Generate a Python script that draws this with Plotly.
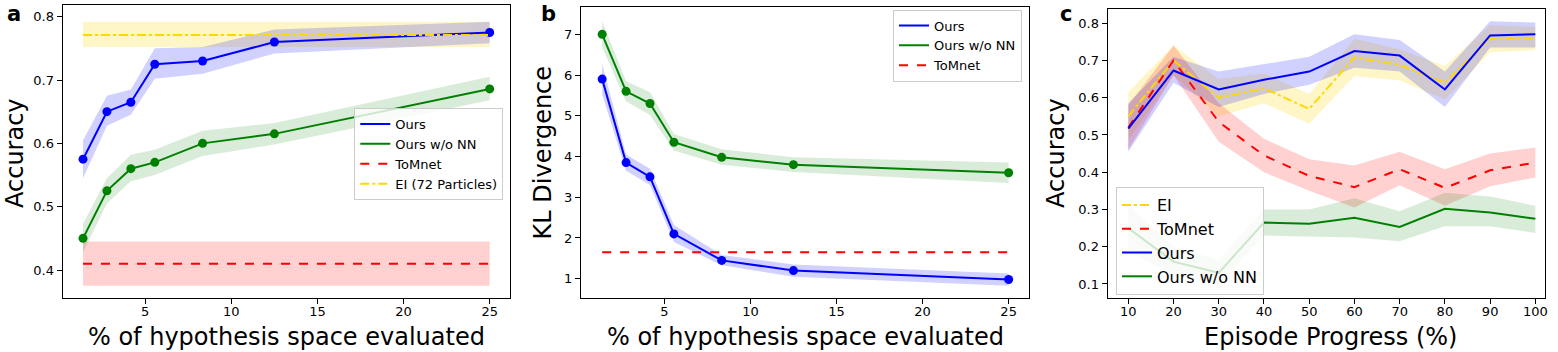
import plotly.graph_objects as go

W, H = 1558, 352

# ---- Panel a data ----
hyp_x = [1.389, 2.778, 4.167, 5.556, 8.333, 12.5, 25.0]
a_ours = [0.575, 0.650, 0.665, 0.725, 0.730, 0.760, 0.775]
a_ours_hi = [0.605, 0.675, 0.685, 0.750, 0.752, 0.780, 0.792]
a_ours_lo = [0.545, 0.628, 0.645, 0.702, 0.710, 0.742, 0.758]
a_nonn = [0.450, 0.525, 0.560, 0.570, 0.600, 0.615, 0.686]
a_nonn_hi = [0.473, 0.545, 0.582, 0.590, 0.620, 0.632, 0.705]
a_nonn_lo = [0.428, 0.505, 0.540, 0.550, 0.580, 0.598, 0.668]
a_tomnet = [0.41] * 7
a_tomnet_hi = [0.445] * 7
a_tomnet_lo = [0.375] * 7
a_ei = [0.771] * 7
a_ei_hi = [0.792] * 7
a_ei_lo = [0.752] * 7

# ---- Panel b data ----
b_ours = [5.90, 3.85, 3.50, 2.10, 1.45, 1.20, 0.98]
b_ours_hi = [6.28, 4.05, 3.70, 2.32, 1.58, 1.35, 1.13]
b_ours_lo = [5.52, 3.65, 3.30, 1.90, 1.33, 1.05, 0.83]
b_nonn = [7.00, 5.60, 5.30, 4.35, 3.98, 3.80, 3.60]
b_nonn_hi = [7.32, 5.85, 5.58, 4.55, 4.18, 3.98, 3.85]
b_nonn_lo = [6.68, 5.35, 5.02, 4.15, 3.80, 3.62, 3.35]
b_tomnet = [1.65] * 7

# ---- Panel c data ----
prog_x = [10, 20, 30, 40, 50, 60, 70, 80, 90, 100]
c_ei = [0.550, 0.700, 0.600, 0.625, 0.570, 0.708, 0.688, 0.640, 0.758, 0.758]
c_ei_hi = [0.615, 0.740, 0.650, 0.665, 0.610, 0.758, 0.730, 0.685, 0.795, 0.790]
c_ei_lo = [0.485, 0.660, 0.550, 0.585, 0.530, 0.658, 0.646, 0.595, 0.722, 0.728]
c_tomnet = [0.520, 0.700, 0.535, 0.445, 0.390, 0.360, 0.408, 0.358, 0.405, 0.426]
c_tomnet_hi = [0.580, 0.740, 0.585, 0.490, 0.435, 0.418, 0.455, 0.408, 0.450, 0.466]
c_tomnet_lo = [0.460, 0.660, 0.482, 0.400, 0.350, 0.305, 0.365, 0.310, 0.362, 0.386]
c_ours = [0.517, 0.673, 0.622, 0.648, 0.670, 0.725, 0.713, 0.622, 0.767, 0.770]
c_ours_hi = [0.585, 0.710, 0.670, 0.690, 0.710, 0.770, 0.755, 0.670, 0.805, 0.802]
c_ours_lo = [0.455, 0.640, 0.575, 0.610, 0.635, 0.680, 0.670, 0.575, 0.735, 0.735]
c_nonn = [0.250, 0.160, 0.130, 0.265, 0.262, 0.278, 0.253, 0.302, 0.292, 0.275]
c_nonn_hi = [0.310, 0.200, 0.165, 0.300, 0.300, 0.330, 0.295, 0.345, 0.335, 0.310]
c_nonn_lo = [0.190, 0.120, 0.100, 0.230, 0.228, 0.225, 0.215, 0.255, 0.255, 0.237]

BLUE = "#0000ff"
GREEN = "#008000"
RED = "#ff0000"
GOLD = "#ffd700"
FILLS = {BLUE: "rgba(0,0,255,0.18)", GREEN: "rgba(0,128,0,0.15)",
         RED: "rgba(255,0,0,0.18)", GOLD: "rgba(255,215,0,0.22)"}

fig = go.Figure()


def band(x, lo, hi, color, xa, ya):
    fig.add_trace(go.Scatter(x=list(x) + list(x)[::-1], y=list(hi) + list(lo)[::-1],
                             fill="toself", fillcolor=FILLS[color], line=dict(width=0),
                             mode="lines", showlegend=False, hoverinfo="skip",
                             xaxis=xa, yaxis=ya))


def line(x, y, color, name, xa, ya, legend, dash="solid", markers=False):
    fig.add_trace(go.Scatter(x=x, y=y, name=name, mode="lines",
                             line=dict(color=color, width=2, dash=dash),
                             xaxis=xa, yaxis=ya, legend=legend))
    if markers:
        fig.add_trace(go.Scatter(x=x, y=y, mode="markers", showlegend=False,
                                 marker=dict(size=9, color=color),
                                 xaxis=xa, yaxis=ya))


# Panel a
band(hyp_x, a_ei_lo, a_ei_hi, GOLD, "x", "y")
band(hyp_x, a_tomnet_lo, a_tomnet_hi, RED, "x", "y")
band(hyp_x, a_ours_lo, a_ours_hi, BLUE, "x", "y")
band(hyp_x, a_nonn_lo, a_nonn_hi, GREEN, "x", "y")
line(hyp_x, a_ours, BLUE, "Ours", "x", "y", "legend", markers=True)
line(hyp_x, a_nonn, GREEN, "Ours w/o NN", "x", "y", "legend", markers=True)
line(hyp_x, a_tomnet, RED, "ToMnet", "x", "y", "legend", dash="dash")
line(hyp_x, a_ei, GOLD, "EI (72 Particles)", "x", "y", "legend", dash="dashdot")

# Panel b
band(hyp_x, b_ours_lo, b_ours_hi, BLUE, "x2", "y2")
band(hyp_x, b_nonn_lo, b_nonn_hi, GREEN, "x2", "y2")
line(hyp_x, b_ours, BLUE, "Ours", "x2", "y2", "legend2", markers=True)
line(hyp_x, b_nonn, GREEN, "Ours w/o NN", "x2", "y2", "legend2", markers=True)
line(hyp_x, b_tomnet, RED, "ToMnet", "x2", "y2", "legend2", dash="dash")

# Panel c
band(prog_x, c_ei_lo, c_ei_hi, GOLD, "x3", "y3")
band(prog_x, c_tomnet_lo, c_tomnet_hi, RED, "x3", "y3")
band(prog_x, c_ours_lo, c_ours_hi, BLUE, "x3", "y3")
band(prog_x, c_nonn_lo, c_nonn_hi, GREEN, "x3", "y3")
line(prog_x, c_ei, GOLD, "EI", "x3", "y3", "legend3", dash="dashdot")
line(prog_x, c_tomnet, RED, "ToMnet", "x3", "y3", "legend3", dash="dash")
line(prog_x, c_ours, BLUE, "Ours", "x3", "y3", "legend3")
line(prog_x, c_nonn, GREEN, "Ours w/o NN", "x3", "y3", "legend3")

FONT = "DejaVu Sans"
TICKF = dict(family=FONT, size=13, color="black")
TITLE_SIZE = 24


def px(v):  # window pixel -> paper x
    return v / W


def py(v):  # window pixel -> paper y
    return 1 - v / H


def xax(domain, rng, dtick, anchor):
    return dict(domain=domain, range=rng, dtick=dtick, anchor=anchor, automargin=False,
                showline=True, linecolor="black", linewidth=1.2, mirror=True,
                ticks="outside", ticklen=5, tickcolor="black", tickwidth=1,
                ticklabelstandoff=-4,
                showgrid=False, zeroline=False, tickfont=TICKF)


def yax(domain, rng, dtick, anchor, fmt=None):
    d = dict(domain=domain, range=rng, dtick=dtick, anchor=anchor, automargin=False,
             showline=True, linecolor="black", linewidth=1.2, mirror=True,
             ticks="outside", ticklen=5, tickcolor="black", tickwidth=1,
             showgrid=False, zeroline=False, tickfont=TICKF)
    if fmt:
        d["tickformat"] = fmt
    return d


def title(text, x, y, angle=0, size=TITLE_SIZE, bold=False, yanchor="middle"):
    return dict(text=f"<b>{text}</b>" if bold else text, x=px(x), y=py(y),
                xref="paper", yref="paper", showarrow=False, textangle=angle,
                xanchor="center", yanchor=yanchor,
                font=dict(family=FONT, size=size, color="black"))


LEG = dict(bgcolor="rgba(255,255,255,0.8)", bordercolor="#cccccc", borderwidth=1, itemwidth=30)

BOTTOM = 298.3
fig.update_layout(
    width=W, height=H, margin=dict(l=0, r=0, t=0, b=0, autoexpand=False),
    paper_bgcolor="white", plot_bgcolor="white",
    font=dict(family=FONT, color="black"),
    xaxis=xax([px(62.7), px(510)], [0.21, 26.18], 5, "y"),
    yaxis=yax([py(BOTTOM), py(5)], [0.3553, 0.8185], 0.1, "x", ".1f"),
    xaxis2=xax([px(581), px(1029.3)], [0.16, 26.2], 5, "y2"),
    yaxis2=yax([py(BOTTOM), py(7.3)], [0.519, 7.663], 1, "x2"),
    xaxis3=xax([px(1107.7), px(1545.3)], [5.45, 102.2], 10, "y3"),
    yaxis3=yax([py(BOTTOM), py(9)], [0.0616, 0.838], 0.1, "x3", ".1f"),
    legend=dict(x=px(503.3), y=py(108), xanchor="right", yanchor="top",
                font=dict(family=FONT, size=13), **LEG),
    legend2=dict(x=px(1022), y=py(9.5), xanchor="right", yanchor="top",
                 font=dict(family=FONT, size=13), **LEG),
    legend3=dict(x=px(1116), y=py(295), xanchor="left", yanchor="bottom",
                 font=dict(family=FONT, size=16), **LEG),
    annotations=[
        title("a", 14, 0, size=21, bold=True, yanchor="top"),
        title("b", 548, 0, size=21, bold=True, yanchor="top"),
        title("c", 1066, 0, size=21, bold=True, yanchor="top"),
        title("Accuracy", 15, 153, angle=-90),
        title("KL Divergence", 543.4, 153, angle=-90),
        title("Accuracy", 1055.9, 153, angle=-90),
        title("% of hypothesis space evaluated", 286.4, 336.5),
        title("% of hypothesis space evaluated", 805.2, 336.5),
        title("Episode Progress (%)", 1330, 336.5),
    ],
)

fig.write_html("out.html", config={"displayModeBar": False},
               post_script="document.body.style.margin='0px';")
